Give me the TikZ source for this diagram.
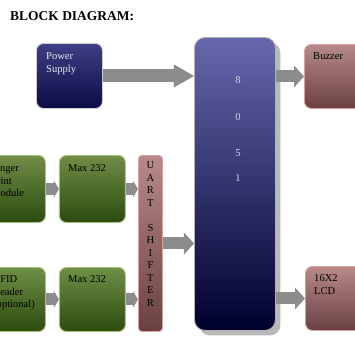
\documentclass[tikz,border=0pt]{standalone}
\usepackage{fontspec}
\setmainfont{Liberation Serif}
\usetikzlibrary{arrows.meta,positioning,shadows}
\definecolor{navytop}{HTML}{3E3E84}
\definecolor{navybot}{HTML}{0B0B47}
\definecolor{mcutop}{HTML}{6767AE}
\definecolor{mcubot}{HTML}{00002E}
\definecolor{grntop}{HTML}{6F8E47}
\definecolor{grnbot}{HTML}{2D4B0E}
\definecolor{grnedge}{HTML}{A4C57A}
\definecolor{pnktop}{HTML}{B88A8A}
\definecolor{pnkbot}{HTML}{6A4040}
\definecolor{pnkedge}{HTML}{D9A0A0}
\definecolor{arrgray}{HTML}{8C8C8C}
\tikzset{
  blk/.style={draw,rectangle,rounded corners=6pt,minimum width=1.98cm,minimum height=1.98cm,line width=0.8pt,inner sep=0pt,anchor=north west},
  navyblk/.style={blk,top color=navytop,bottom color=navybot,draw=gray!40},
  grnblk/.style={blk,top color=grntop,bottom color=grnbot,draw=grnedge},
  pnkblk/.style={blk,top color=pnktop,bottom color=pnkbot,draw=pnkedge},
  mcublk/.style={blk,top color=mcutop,bottom color=mcubot,draw=gray!60,rounded corners=9pt,
    minimum width=2.43cm,minimum height=8.79cm,
    drop shadow={shadow xshift=0.15cm,shadow yshift=-0.15cm,fill=gray!55,opacity=1}},
  txt/.style={anchor=north west,align=left,inner sep=0pt,font=\fontsize{9}{11}\selectfont},
  dig/.style={inner sep=0pt,text=mcutop!30!white,font=\fontsize{9}{11}\selectfont},
  ttl/.style={anchor=west,inner sep=0pt,font=\fontsize{11.5}{13}\selectfont\bfseries},
  arr/.style={draw=arrgray,line width=0.36cm,-{Triangle[length=0.3cm,width=0.66cm,line width=0pt]}},
  bigarr/.style={arr,line width=0.39cm,-{Triangle[length=0.6cm,width=0.69cm,line width=0pt]}},
  smlarr/.style={arr,-{Triangle[length=0.15cm,width=0.5cm,line width=0pt]}}
}
\begin{document}
\begin{tikzpicture}[x=0.03cm,y=-0.03cm]
  \useasboundingbox (0,0) rectangle (355,355);
  \node[ttl] (title) at (10,16) {BLOCK DIAGRAM:};

  % blocks
  \node[navyblk,minimum height=1.95cm] (ps) at (36,43) {};
  \node[mcublk] (mcu) at (194,37) {};
  \node[pnkblk,minimum height=1.92cm] (buz) at (304,44) {};
  \node[pnkblk,minimum height=1.92cm] (lcd) at (305,266) {};
  \node[grnblk,minimum height=2.01cm] (fp) at (-21,155) {};
  \node[grnblk,minimum height=2.01cm,right=0.39cm of fp] (mx1) {};
  \node[grnblk,minimum height=1.92cm] (rf) at (-21,267) {};
  \node[grnblk,minimum height=1.92cm,right=0.39cm of rf] (mx2) {};
  \node[pnkblk,minimum width=0.72cm,minimum height=5.28cm,rounded corners=3pt] (uart) at (138,155) {};

  % texts
  \node[txt,text=white!88!navytop] (pstxt) at ([shift={(10,9)}]ps.north west) {Power\\Supply};
  \node[txt] (buztxt) at ([shift={(9,8)}]buz.north west) {Buzzer};
  \node[txt] (lcdtxt) at ([shift={(9,8)}]lcd.north west) {16X2\\LCD};
  \node[txt] (fptxt) at ([shift={(12,9)}]fp.north west) {Finger\\Print\\Module};
  \node[txt] (mx1txt) at ([shift={(9,9)}]mx1.north west) {Max 232};
  \node[txt] (rftxt) at ([shift={(14,8)}]rf.north west) {RFID\\Reader\\(optional)};
  \node[txt] (mx2txt) at ([shift={(9,8)}]mx2.north west) {Max 232};
  \node[txt,anchor=north,align=center,font=\fontsize{9}{10.67}\selectfont] (uarttxt)
    at ([shift={(0,6.5)}]uart.north) {U\\A\\R\\T\\[10.67pt]S\\H\\I\\F\\T\\E\\R};
  \foreach \d/\y in {8/80,0/117,5/153,1/178}
    \node[dig] (d\d) at (238,\y) {\d};

  % connectors
  \draw[bigarr] (ps.east) -- (ps.east -| mcu.west);
  \draw[arr] (buz.west -| mcu.east) -- (buz.west);
  \draw[arr] (lcd.west -| mcu.east) -- (lcd.west);
  \draw[arr] (uart.east) -- (uart.east -| mcu.west);
  \draw[smlarr] (fp) -- (mx1);
  \draw[smlarr] (mx1.east) -- (mx1.east -| uart.west);
  \draw[smlarr] (rf) -- (mx2);
  \draw[smlarr] (mx2.east) -- (mx2.east -| uart.west);
\end{tikzpicture}
\end{document}
